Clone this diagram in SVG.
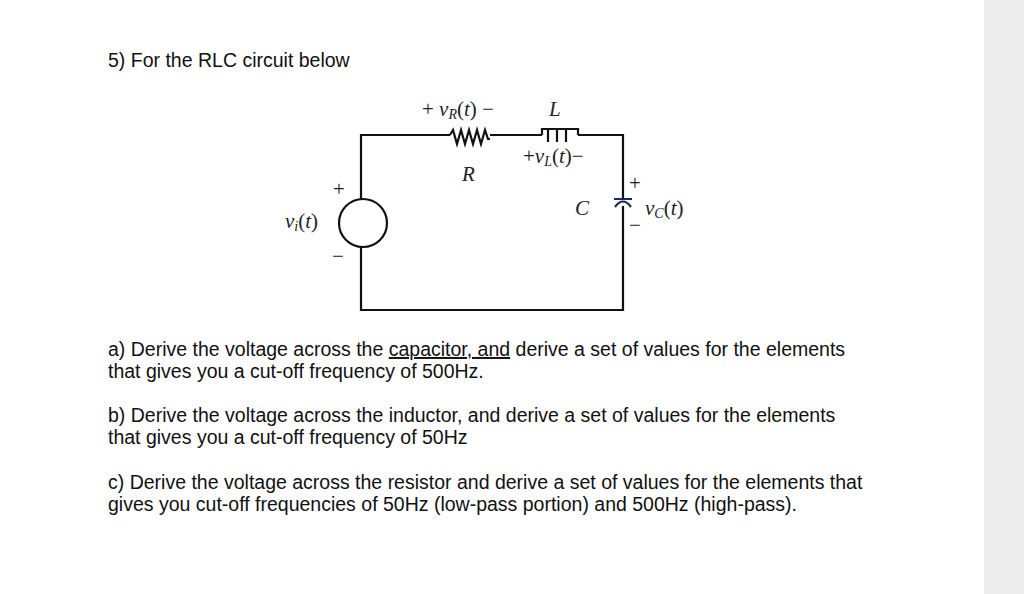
<svg xmlns="http://www.w3.org/2000/svg" width="1024" height="594" viewBox="0 0 1024 594">
<style>
.t{font-family:"Liberation Sans",Arial,sans-serif;font-size:19.5px;fill:#111}
.m{font-family:"Liberation Serif","Times New Roman",serif;font-size:21px;fill:#222}
.i{font-style:italic}
.s{font-size:14px}
.w{fill:none;stroke:#111;stroke-width:2.2}
</style>
<rect width="1024" height="594" fill="#fff"/>
<rect x="984" y="0" width="40" height="594" fill="#ececec"/>
<text class="t" x="108" y="67">5) For the RLC circuit below</text>
<g id="wires">
<path class="w" d="M361,199 V135 H450 M490,135 H542 M578,135 H623 V198 M623,206 V310 H361 V247"/>
</g>
<g id="source"><circle class="w" cx="363" cy="223" r="24"/></g>
<g id="resistor"><path class="w" d="M450,135 l3,-5 l4,14 l4,-14 l4,14 l4,-14 l4,14 l4,-14 l4,14 l4,-14 l3,9 h2"/></g>
<g id="inductor"><path class="w" d="M542,135 V129 H578 V135 M548,129 V142 M557,129 V142 M566,129 V142"/></g>
<g id="capacitor"><path d="M614,199 H632 M615,207 Q623,196 631,207" fill="none" stroke="#1a2a55" stroke-width="2.2"/></g>
<g id="labels">
<text class="m" x="422" y="116">+ <tspan class="i">v</tspan><tspan class="i s" dy="3">R</tspan><tspan dy="-3">(</tspan><tspan class="i">t</tspan>) −</text>
<text class="m i" x="549" y="116">L</text>
<text class="m" x="523" y="163">+<tspan class="i">v</tspan><tspan class="i s" dy="3">L</tspan><tspan dy="-3">(</tspan><tspan class="i">t</tspan>)−</text>
<text class="m i" x="462" y="181">R</text>
<text class="m" x="333" y="196">+</text>
<text class="m" x="332" y="263">−</text>
<text class="m" x="285" y="228"><tspan class="i">v</tspan><tspan class="i s" dy="3">i</tspan><tspan dy="-3">(</tspan><tspan class="i">t</tspan>)</text>
<text class="m" x="629" y="190">+</text>
<text class="m" x="629" y="232">−</text>
<text class="m i" x="575" y="215">C</text>
<text class="m" x="645" y="215"><tspan class="i">v</tspan><tspan class="i s" dy="3">C</tspan><tspan dy="-3">(</tspan><tspan class="i">t</tspan>)</text>
</g>
<text class="t" x="108" y="356">a) Derive the voltage across the <tspan text-decoration="underline">capacitor, and</tspan> derive a set of values for the elements</text>
<text class="t" x="108" y="378">that gives you a cut-off frequency of 500Hz.</text>
<text class="t" x="108" y="422">b) Derive the voltage across the inductor, and derive a set of values for the elements</text>
<text class="t" x="108" y="444">that gives you a cut-off frequency of 50Hz</text>
<text class="t" x="108" y="489">c) Derive the voltage across the resistor and derive a set of values for the elements that</text>
<text class="t" x="108" y="511">gives you cut-off frequencies of 50Hz (low-pass portion) and 500Hz (high-pass).</text>
</svg>
